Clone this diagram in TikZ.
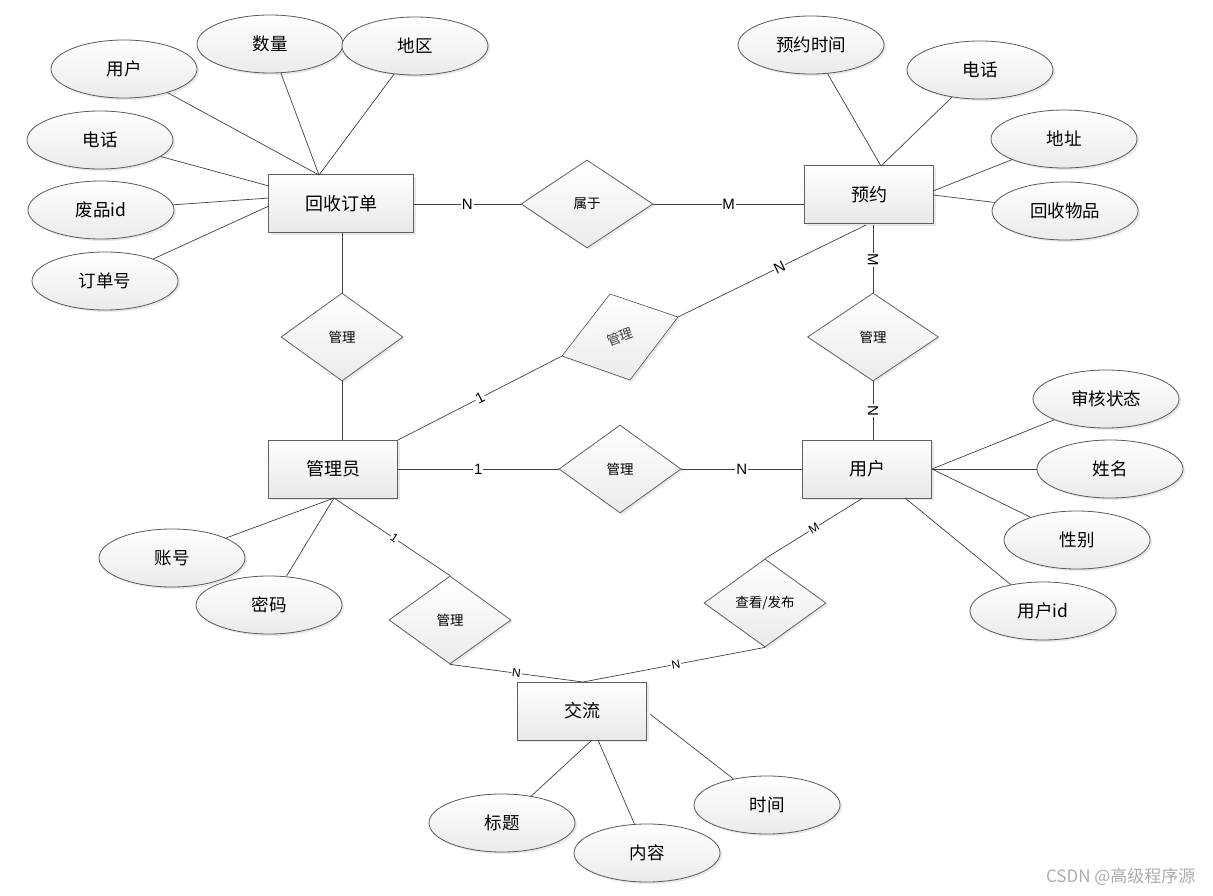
\documentclass[tikz,border=0pt]{standalone}
\usepackage{fontspec}
\setmainfont{Liberation Sans}
\newfontfamily\cjk{Noto Sans CJK SC}
\usetikzlibrary{shapes.geometric,shadows}
\tikzset{
  shd/.style={drop shadow={opacity=0.18, shadow xshift=2pt, shadow yshift=-2pt}},
  ent/.style={rectangle, draw=gray!75!black, line width=1pt, top color=white, bottom color=gray!18, shd,
    minimum width=129pt, minimum height=58pt, font=\cjk\fontsize{18}{20}\selectfont},
  attr/.style={ellipse, draw=gray!70!black, line width=0.8pt, top color=white, bottom color=gray!16, shd,
    minimum width=146pt, minimum height=58pt, font=\cjk\fontsize{17.5}{20}\selectfont},
  rel/.style={diamond, draw=gray!75!black, line width=0.8pt, top color=white, bottom color=gray!16, shd,
    inner sep=0pt, minimum width=122pt, minimum height=88pt, font=\cjk\fontsize{13.5}{15}\selectfont},
  conn/.style={draw=black!75, line width=0.7pt},
  lab/.style={fill=white, inner sep=0.8pt, sloped, font=\fontsize{15}{15}\selectfont},
  slab/.style={lab, font=\fontsize{12}{12}\selectfont},
}
\begin{document}
\begin{tikzpicture}[x=1pt, y=-1pt]
\useasboundingbox (0,0) rectangle (1213,896);
% entities
\node[ent, minimum width=145pt] (hs) at (341,204) {回收订单};
\node[ent] (yy) at (869,195) {预约};
\node[ent] (gly) at (333,469) {管理员};
\node[ent] (yh) at (867,469) {用户};
\node[ent] (jl) at (582,711) {交流};
% relationships
\node[rel, minimum width=132pt] (sy) at (587,204) {属于};
\node[rel] (gl1) at (342,337) {管理};
\node[rel, minimum width=131pt] (gl3) at (873,337) {管理};
\node[rel] (gl4) at (620,469) {管理};
\node[rel] (gl5) at (450,620) {管理};
\node[rel] (ck) at (765,603) {查看/发布};
% rotated relationship
\coordinate (r-t) at (610,294);
\coordinate (r-r) at (678,317);
\coordinate (r-b) at (630,380);
\coordinate (r-l) at (562,356);
\path[draw=gray!60!black, line width=0.6pt, top color=white, bottom color=gray!16, shd]
  (r-t) -- (r-r) -- (r-b) -- (r-l) -- cycle;
\node[rotate=20, text=gray!50!black, font=\cjk\fontsize{13.5}{15}\selectfont] (gl2) at (620,337) {管理};
% attributes
\node[attr] (a1) at (124,69) {用户};
\node[attr] (a2) at (270,44) {数量};
\node[attr] (a3) at (415,46) {地区};
\node[attr] (a4) at (100,140) {电话};
\node[attr] (a5) at (101,210) {废品id};
\node[attr] (a6) at (105,281) {订单号};
\node[attr] (b1) at (811,45) {预约时间};
\node[attr] (b2) at (980,70) {电话};
\node[attr] (b3) at (1064,139) {地址};
\node[attr] (b4) at (1065,211) {回收物品};
\node[attr] (c1) at (1106,399) {审核状态};
\node[attr] (c2) at (1110,469) {姓名};
\node[attr] (c3) at (1077,540) {性别};
\node[attr] (c4) at (1043,611) {用户id};
\node[attr] (d1) at (172,558) {账号};
\node[attr] (d2) at (269,605) {密码};
\node[attr] (e1) at (502,823) {标题};
\node[attr] (e2) at (647,853) {内容};
\node[attr] (e3) at (767,805) {时间};
% anchor points
\coordinate (hs-t) at (319,175);
\coordinate (hs-l1) at (269,186);
\coordinate (hs-l2) at (269,198);
\coordinate (hs-l3) at (269,206);
\coordinate (yy-t) at (881,166);
\coordinate (yy-r1) at (933,191);
\coordinate (yy-r2) at (933,195);
\coordinate (yy-b1) at (866,225);
\coordinate (yy-b2) at (873,225);
\coordinate (yh-r) at (932,469);
\coordinate (yh-b1) at (863,498);
\coordinate (yh-b2) at (905,498);
\coordinate (gly-tr) at (398,440);
\coordinate (gly-b) at (334,498);
\coordinate (jl-t) at (583,682);
\coordinate (jl-t1) at (592,740);
\coordinate (jl-t2) at (598,740);
\coordinate (jl-r) at (650,714);
% attribute connectors
\draw[conn] (a1) -- (hs-t);
\draw[conn] (a2) -- (hs-t);
\draw[conn] (a3) -- (hs-t);
\draw[conn] (a4) -- (hs-l1);
\draw[conn] (a5) -- (hs-l2);
\draw[conn] (a6) -- (hs-l3);
\draw[conn] (b1) -- (yy-t);
\draw[conn] (b2) -- (yy-t);
\draw[conn] (b3) -- (yy-r1);
\draw[conn] (b4) -- (yy-r2);
\draw[conn] (c1) -- (yh-r);
\draw[conn] (c2) -- (yh-r);
\draw[conn] (c3) -- (yh-r);
\draw[conn] (c4) -- (yh-b2);
\draw[conn] (d1) -- (gly-b);
\draw[conn] (d2) -- (gly-b);
\draw[conn] (e1) -- (jl-t1);
\draw[conn] (e2) -- (jl-t2);
\draw[conn] (e3) -- (jl-r);
% relationship connectors
\draw[conn] (hs.east) -- (sy.west) node[lab, pos=0.5] {N};
\draw[conn] (sy.east) -- (yy.west |- sy.east) node[lab, pos=0.5] {M};
\draw[conn] (hs.south -| gl1.north) -- (gl1.north);
\draw[conn] (gl1.south) -- (gly.north -| gl1.south);
\draw[conn] (yy-b2) -- (gl3.north) node[lab, pos=0.52] {M};
\draw[conn] (gl3.south) -- (yh.north -| gl3.south) node[lab, pos=0.5] {N};
\draw[conn] (r-r) -- (yy-b1) node[lab, pos=0.54] {N};
\draw[conn] (gly-tr) -- (r-l) node[lab, pos=0.5] {1};
\draw[conn] (gly.east) -- (gl4.west) node[lab, pos=0.5] {1};
\draw[conn] (gl4.east) -- (yh.west) node[lab, pos=0.5] {N};
\draw[conn] (gly-b) -- (gl5.north) node[slab, pos=0.52] {1};
\draw[conn] (gl5.south) -- (jl-t) node[slab, pos=0.5] {N};
\draw[conn] (ck.north) -- (yh-b1) node[slab, pos=0.5] {M};
\draw[conn] (ck.south) -- (jl-t) node[slab, pos=0.49] {N};
% watermark
\node[anchor=east, text=gray!65, font=\cjk\fontsize{17}{17}\selectfont] (wm) at (1199,877) {CSDN @高级程序源};
\end{tikzpicture}
\end{document}
